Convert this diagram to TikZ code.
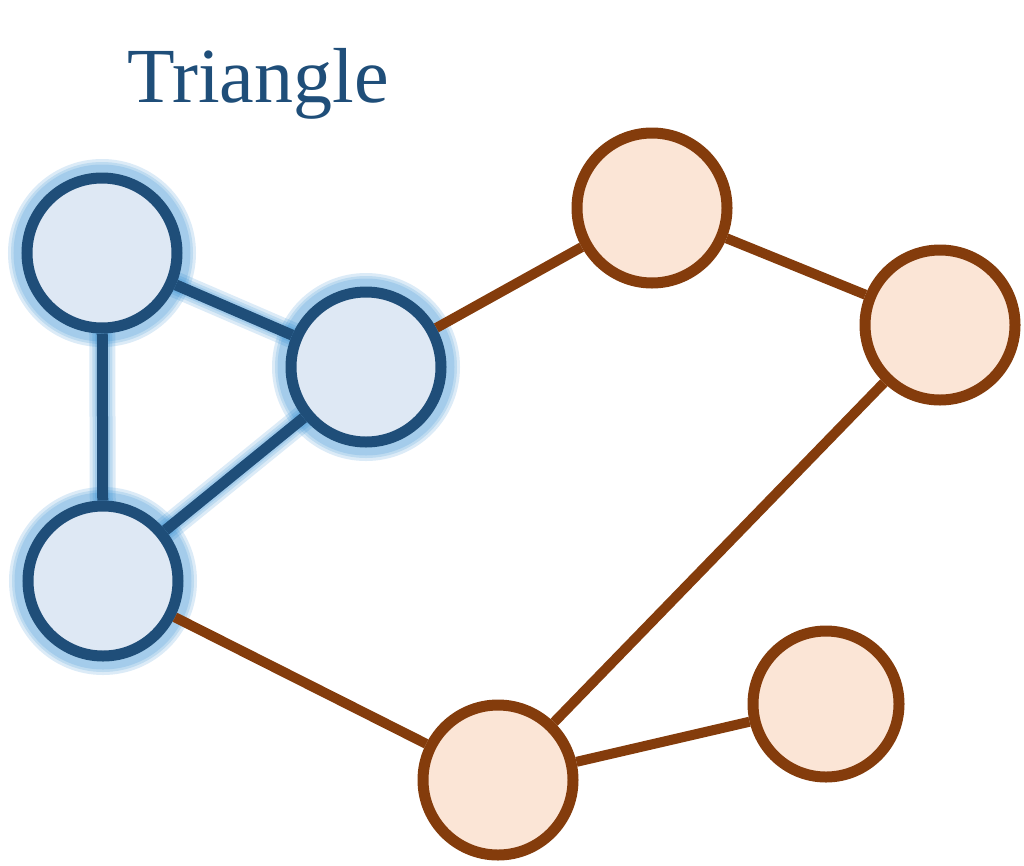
\documentclass[tikz,border=0pt]{standalone}
\usepackage{fontspec}
\setmainfont{Liberation Serif}
\begin{document}
\begin{tikzpicture}[x=1pt,y=-1pt,
  bl/.style={circle,draw=blueD,line width=11pt,fill=blueF,minimum size=150pt,inner sep=0pt},
  ob/.style={circle,draw=brownD,line width=11pt,fill=orangeF,minimum size=150pt,inner sep=0pt},
  be/.style={draw=blueD,line width=11pt},
  glow/.style={draw=cyan!60!blue,opacity=0.15,line width=\w pt},
  oe/.style={draw=brownD,line width=10pt}]
\definecolor{blueD}{HTML}{1F4E79}\definecolor{blueF}{HTML}{DEE8F4}
\definecolor{brownD}{HTML}{843C0C}\definecolor{orangeF}{HTML}{FBE5D6}
\useasboundingbox (0,0) rectangle (1024,865);
\node[text=blueD,font=\fontsize{78}{88}\selectfont] (t) at (258,84) {Triangle};
% glow
\foreach \w in {26,20,15} {
\foreach \p in {(102,253),(366,367),(103,581)} \draw[glow] \p circle (81);
\draw[glow] (102,253)--(366,367)--(103,581)--cycle;}
\node[bl] (a) at (102,253) {};
\node[bl] (b) at (366,367) {};
\node[bl] (c) at (103,581) {};
\node[ob] (d) at (652,208) {};
\node[ob] (e) at (940,325) {};
\node[ob] (f) at (498,780) {};
\node[ob,minimum size=146pt] (g) at (826,704) {};
\draw[be] (a)--(b); \draw[be] (a)--(c); \draw[be] (b)--(c);
\draw[oe] (b)--(d); \draw[oe] (d)--(e); \draw[oe] (e)--(f);
\draw[oe] (c)--(f); \draw[oe] (f)--(g);
\end{tikzpicture}
\end{document}
